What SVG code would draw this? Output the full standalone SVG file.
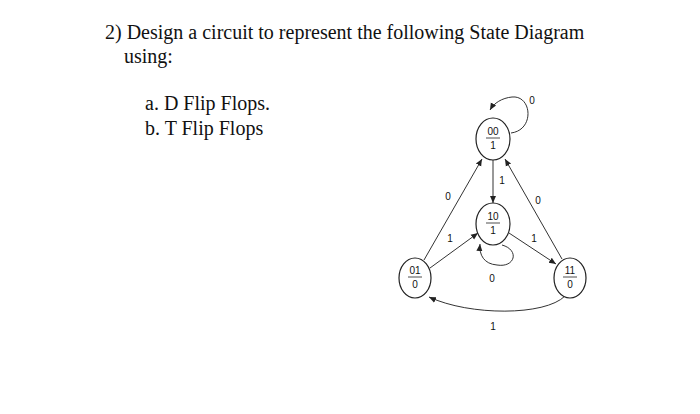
<svg xmlns="http://www.w3.org/2000/svg" width="700" height="414" viewBox="0 0 700 414">
<style>
.t{font-family:"Liberation Serif",serif;font-size:20px;fill:#111}
.n ellipse{fill:#fff;stroke:#222;stroke-width:1.2}
.n text,.l{font-family:"Liberation Sans",sans-serif;font-size:10px;fill:#111;text-anchor:middle}
.n line{stroke:#222;stroke-width:0.8}
.c path{fill:none;stroke:#333;stroke-width:1}
</style>
<defs><marker id="a" markerWidth="8" markerHeight="8" refX="7" refY="4" orient="auto" markerUnits="userSpaceOnUse"><path d="M0,1 L7,4 L0,7 Z" fill="#222"/></marker></defs>
<rect width="700" height="414" fill="#fff"/>
<text class="t" x="105" y="39">2) Design a circuit to represent the following State Diagram</text>
<text class="t" x="124" y="63">using:</text>
<text class="t" x="145" y="110">a. D Flip Flops.</text>
<text class="t" x="145" y="135">b. T Flip Flops</text>
<g class="c">
<path d="M511,133 C535,130 532,95 512,97 C502,98 494,103 490,110" marker-end="url(#a)"/>
<path d="M493,160 L493,203" marker-end="url(#a)"/>
<path d="M424,260 L482,159" marker-end="url(#a)"/>
<path d="M430,268 L478,233" marker-end="url(#a)"/>
<path d="M509,233 L556,264" marker-end="url(#a)"/>
<path d="M562,259 L505,159" marker-end="url(#a)"/>
<path d="M502,245 C520,250 515,268 497,265 C484,264 479,255 480,244" marker-end="url(#a)"/>
<path d="M565,296 C545,316 470,316 429,297" marker-end="url(#a)"/>
</g>
<g class="l">
<text class="l" x="532" y="104">0</text>
<text class="l" x="502" y="184">1</text>
<text class="l" x="448" y="200">0</text>
<text class="l" x="450" y="242">1</text>
<text class="l" x="534" y="242">1</text>
<text class="l" x="538" y="204">0</text>
<text class="l" x="492" y="282">0</text>
<text class="l" x="493" y="330">1</text>
</g>
<g id="s00" class="n"><ellipse cx="493" cy="139" rx="17" ry="21"/><text x="493" y="135">00</text><line x1="486" y1="138" x2="500" y2="138"/><text x="493" y="149">1</text></g>
<g id="s10" class="n"><ellipse cx="493" cy="224" rx="17" ry="21"/><text x="493" y="220">10</text><line x1="486" y1="223" x2="500" y2="223"/><text x="493" y="234">1</text></g>
<g id="s01" class="n"><ellipse cx="415" cy="278" rx="16" ry="20"/><text x="415" y="274">01</text><line x1="408" y1="277" x2="422" y2="277"/><text x="415" y="288">0</text></g>
<g id="s11" class="n"><ellipse cx="570" cy="278" rx="16" ry="20"/><text x="570" y="274">11</text><line x1="563" y1="277" x2="577" y2="277"/><text x="570" y="288">0</text></g>
</svg>
